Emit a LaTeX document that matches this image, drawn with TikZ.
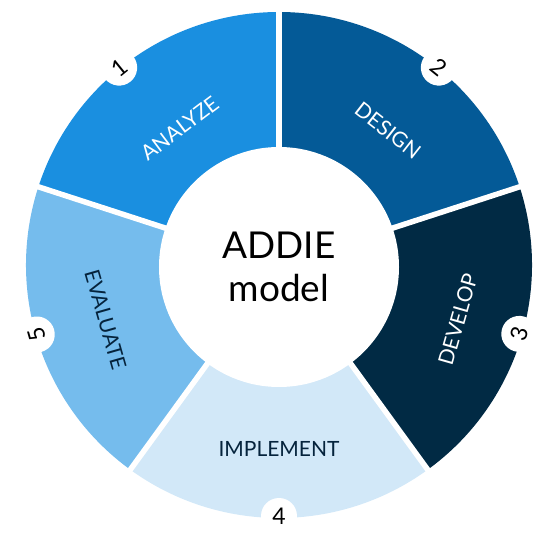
\documentclass[tikz,border=0pt]{standalone}
\usepackage{fontspec}
\setmainfont{Lato}
\usepackage{tikz}

\definecolor{analyze}{HTML}{1A8FE0}
\definecolor{design}{HTML}{045A97}
\definecolor{develop}{HTML}{012A44}
\definecolor{implement}{HTML}{D2E8F8}
\definecolor{evaluate}{HTML}{75BCED}
\definecolor{navy}{HTML}{05233C}

\tikzset{
  phase/.style={font=\fontsize{21}{24}\selectfont},
  badge/.style={circle, fill=white, minimum size=36pt, inner sep=0pt, font=\fontsize{23}{23}\selectfont},
}

\begin{document}
\begin{tikzpicture}[x=1pt,y=1pt]
    \useasboundingbox (-279,-280) rectangle (277,265);
    % ring segments
    \foreach \a/\col in {90/analyze, 18/design, -54/develop, -126/implement, 162/evaluate}
      \fill[\col] (0,0) -- (\a:253) arc[start angle=\a, delta angle=72, radius=253] -- cycle;
    \foreach \a in {18,90,162,234,306}
      \draw[white, line width=5.5pt] (0,0) -- (\a:262);
    \node[circle, fill=white, minimum size=240pt, align=center, font=\fontsize{37}{43}\selectfont] (hub) at (0,-2) {ADDIE\\model};
    % phase labels
    \node[phase, white, rotate=37] (analyze) at (126:169) {ANALYZE};
    \node[phase, white, rotate=-38] (design) at (51:173) {DESIGN};
    \node[phase, white, rotate=74] (develop) at (-17:187) {DEVELOP};
    \node[phase, navy] (implement) at (270:184) {IMPLEMENT};
    \node[phase, navy, rotate=-74] (evaluate) at (197.5:182) {EVALUATE};
    % numbers
    \node[badge, rotate=39] (n1) at (129:254) {1};
    \node[badge, rotate=-39] (n2) at (51:254) {2};
    \node[badge, rotate=74] (n3) at (-16:250) {3};
    \node[badge] (n4) at (270:251) {4};
    \node[badge, rotate=106] (n5) at (196:252) {5};
\end{tikzpicture}
\end{document}
